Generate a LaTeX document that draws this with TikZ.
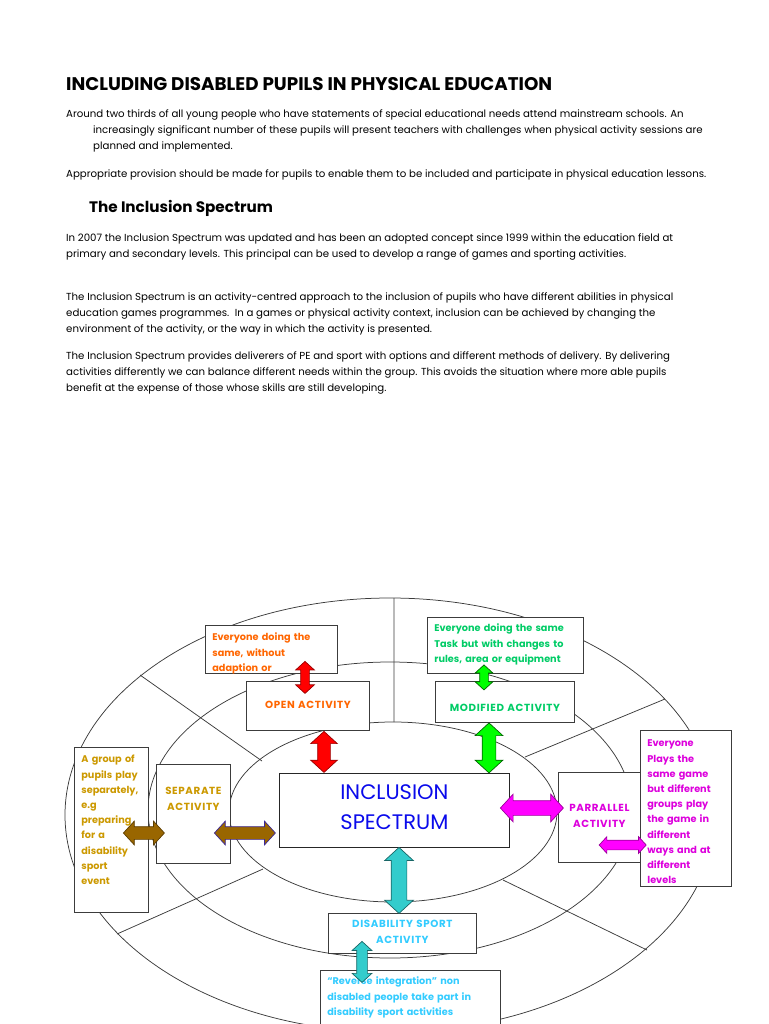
\documentclass[tikz,border=0pt]{standalone}
\usepackage{fontspec}
\setmainfont{Poppins}
\usetikzlibrary{shapes.arrows}

\definecolor{opencol}{RGB}{255,102,0}
\definecolor{modcol}{RGB}{0,204,102}
\definecolor{sepcol}{RGB}{204,153,0}
\definecolor{parcol}{RGB}{221,0,221}
\definecolor{spectcol}{RGB}{10,10,235}
\definecolor{discol}{RGB}{51,204,255}
\definecolor{ringcol}{RGB}{60,60,60}
\definecolor{browncol}{RGB}{153,102,0}
\definecolor{tealcol}{RGB}{51,204,204}
\definecolor{pinkcol}{RGB}{255,0,255}

\begin{document}
\begin{tikzpicture}[x=1pt, y=-1pt]
        % Setup the styles for the text, the boxes and the arrows
        \tikzset{text style/.style={anchor=north west, inner sep=0pt, align=left,
                                    font=\fontsize{10.2}{15.8}\selectfont},
                 box style/.style={rectangle, anchor=north west, draw=ringcol, fill=white,
                                   line width=0.8pt, inner xsep=7pt, inner ysep=0pt, align=left,
                                   font=\bfseries\fontsize{9.7}{15.2}\selectfont},
                 label style/.style={box style, align=center,
                                     font=\bfseries\fontsize{10.3}{15.5}\selectfont\addfontfeatures{LetterSpace=6}},
                 arrow style/.style={double arrow, line width=0.7pt, inner sep=0pt,
                                     double arrow tip angle=95}}
        \useasboundingbox (0, 0) rectangle (768, 1024);

        % Draw the text above the diagram
        \node[text style, font=\bfseries\fontsize{18.3}{20}\selectfont] at (66, 77) (title) {INCLUDING DISABLED PUPILS IN PHYSICAL EDUCATION};
        \node[text style] at (66, 110) (intro) {Around two thirds of all young people who have statements of special educational needs attend mainstream schools. An\\
            \hspace*{27pt}increasingly significant number of these pupils will present teachers with challenges when physical activity sessions are\\
            \hspace*{27pt}planned and implemented.};
        \node[text style] at (66, 170) (provision) {Appropriate provision should be made for pupils to enable them to be included and participate in physical education lessons.};
        \node[text style, font=\bfseries\fontsize{15.2}{17}\selectfont] at (89, 200) (heading) {The Inclusion Spectrum};
        \node[text style] at (66, 234) (history) {In 2007 the Inclusion Spectrum was updated and has been an adopted concept since 1999 within the education field at\\
            primary and secondary levels. This principal can be used to develop a range of games and sporting activities.};
        \node[text style] at (66, 293) (approach) {The Inclusion Spectrum is an activity-centred approach to the inclusion of pupils who have different abilities in physical\\
            education games programmes.\ \ In a games or physical activity context, inclusion can be achieved by changing the\\
            environment of the activity, or the way in which the activity is presented.};
        \node[text style] at (66, 352) (delivery) {The Inclusion Spectrum provides deliverers of PE and sport with options and different methods of delivery. By delivering\\
            activities differently we can balance different needs within the group. This avoids the situation where more able pupils\\
            benefit at the expense of those whose skills are still developing.};

        % Draw the rings and the dividing lines
        \draw[ringcol, line width=0.75pt] (390, 815) ellipse [x radius=325, y radius=217]
                                          (390, 810) ellipse [x radius=242, y radius=148]
                                          (393, 812) ellipse [x radius=164, y radius=90];
        \draw[ringcol, line width=0.75pt] (394, 598) -- (394, 722)
                                          (140, 675) -- (262, 761)
                                          (117, 934) -- (263, 869)
                                          (665, 699) -- (525, 757)
                                          (503, 880) -- (647, 950);

        % Draw the boxes
        \node[box style, text=opencol, minimum width=132pt, text width=118pt, text height=15.5pt, text depth=32.5pt] at (205, 625) (opentext) {Everyone doing the\\same, without\\adaption or};
        \node[label style, text=opencol, minimum width=123pt, text width=109pt, text height=27.5pt, text depth=21.5pt] at (246, 681) (openbox) {OPEN ACTIVITY};
        \node[box style, text=modcol, minimum width=156pt, text width=142pt, text height=14.5pt, text depth=41.5pt] at (427, 617) (modtext) {Everyone doing the same\\Task but with changes to\\rules, area or equipment};
        \node[label style, text=modcol, minimum width=139pt, text width=125pt, text height=30.5pt, text depth=10.5pt] at (435, 681) (modbox) {MODIFIED ACTIVITY};
        \node[label style, draw=black!85, text=spectcol, minimum width=230pt, text width=216pt, text height=26.5pt, text depth=47.5pt, font=\fontsize{21}{30}\selectfont] at (279, 773) (spectrum) {INCLUSION\\SPECTRUM};
        \node[box style, text=sepcol, minimum width=74pt, text width=60pt, text height=15.5pt, text depth=149.5pt] at (74, 747) (septext) {A group of\\pupils play\\separately,\\e.g\\preparing\\for a\\disability\\sport\\event};
        \node[label style, text=sepcol, minimum width=74pt, text width=60pt, text height=30.5pt, text depth=68.5pt] at (156, 764) (sepbox) {SEPARATE\\ACTIVITY};
        \node[label style, text=parcol, minimum width=82pt, text width=68pt, text height=39.5pt, text depth=50.5pt] at (558, 772) (parbox) {PARRALLEL\\ACTIVITY};
        \node[box style, text=parcol, minimum width=91pt, text width=77pt, text height=16.5pt, text depth=139.5pt] at (640, 730) (playstext) {Everyone\\Plays the\\same game\\but different\\groups play\\the game in\\different\\ways and at\\different\\levels};
        \node[label style, text=discol, minimum width=148pt, text width=134pt, text height=14.5pt, text depth=25.5pt] at (328, 913) (disbox) {DISABILITY SPORT\\ACTIVITY};
        \node[box style, text=discol, minimum width=180pt, text width=166pt, text height=14.5pt, text depth=51.5pt] at (320, 970) (revtext) {``Reverse integration'' non\\disabled people take part in\\disability sport activities};

        % Connect the boxes with the block arrows
        \path (305, 0 |- opentext.south) -- (305, 0 |- openbox.north)
              node[arrow style, midway, rotate=90, fill=red, draw=red!60!black, minimum height=32pt, inner ysep=4pt, double arrow head extend=5pt] (openlink) {};
        \path (324, 0 |- openbox.south) -- (324, 0 |- spectrum.north)
              node[arrow style, midway, rotate=90, fill=red, draw=red!60!black, minimum height=41pt, inner ysep=6pt, double arrow head extend=7pt] (opencore) {};
        \path (484, 0 |- modtext.south) -- (484, 0 |- modbox.north)
              node[arrow style, midway, rotate=90, fill=green, draw=green!40!black, minimum height=25pt, inner ysep=4pt, double arrow head extend=4.5pt] (modlink) {};
        \path (489, 0 |- modbox.south) -- (489, 0 |- spectrum.north)
              node[arrow style, midway, rotate=90, fill=green, draw=green!40!black, minimum height=50pt, inner ysep=6.5pt, double arrow head extend=7pt] (modcore) {};
        \path (septext.east |- 0, 833) -- (sepbox.west |- 0, 833)
              node[arrow style, midway, xshift=-8.5pt, fill=browncol, draw=browncol!60!black, minimum height=41pt, inner ysep=6pt, double arrow head extend=5.5pt] (seplink) {};
        \path (sepbox.east |- 0, 833) -- (spectrum.west |- 0, 833)
              node[arrow style, midway, xshift=-10pt, fill=browncol, draw={rgb,255:red,60;green,40;blue,150}, minimum height=61pt, inner ysep=6pt, double arrow head extend=5.5pt] (sepcore) {};
        \path (spectrum.east |- 0, 808) -- (parbox.west |- 0, 808)
              node[arrow style, midway, xshift=-2pt, fill=pinkcol, draw=pinkcol!60!black, minimum height=63pt, inner ysep=7pt, double arrow head extend=6.5pt] (parcore) {};
        \path (parbox.center |- 0, 845) -- (playstext.west |- 0, 845)
              node[arrow style, midway, xshift=3pt, fill=pinkcol, draw=pinkcol!60!black, minimum height=47pt, inner ysep=4.5pt, double arrow head extend=3.5pt] (parlink) {};
        \path (399, 0 |- spectrum.south) -- (399, 0 |- disbox.north)
              node[arrow style, midway, rotate=90, fill=tealcol, draw=tealcol!50!black, minimum height=66pt, inner ysep=7.5pt, double arrow head extend=6.5pt] (discore) {};
        \path (362, 0 |- disbox.south) -- (362, 0 |- revtext.north)
              node[arrow style, midway, rotate=90, fill=tealcol, draw=tealcol!50!black, minimum height=41pt, inner ysep=5pt, double arrow head extend=4.5pt] (dislink) {};
\end{tikzpicture}
\end{document}
